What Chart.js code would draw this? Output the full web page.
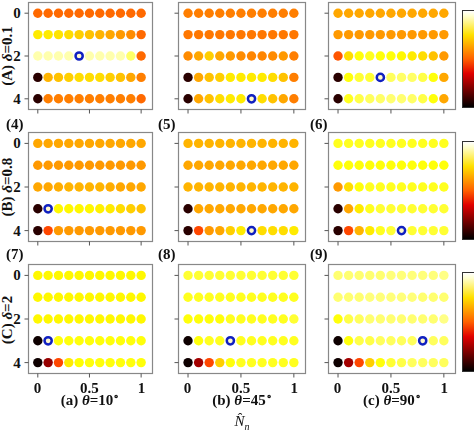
<!DOCTYPE html>
<html><head><meta charset="utf-8">
<script src="https://cdn.jsdelivr.net/npm/chart.js@4"></script>
<style>
body{margin:0;width:474px;height:434px;background:#fff;position:relative;overflow:hidden;font-family:"Liberation Serif",serif;font-weight:bold;}
canvas{position:absolute;}
.t{position:absolute;font-size:15px;white-space:nowrap;color:#111;}
.c{transform:translate(-50%,-50%);}
.r{transform:translate(-50%,-50%) rotate(-90deg);}
.cb{position:absolute;width:12px;border:1px solid #333;background:linear-gradient(to top,#000 0%,#e00000 35%,#ff6000 50%,#ffe000 75%,#ffffd0 95%,#fff 100%);}
</style></head><body>
<script>
const xs=[0,0.1,0.2,0.3,0.4,0.5,0.6,0.7,0.8,0.9,1];
const rowsY=[0,1,2,3,4];
// heat values (0 black .. 1 white) per panel, rows 0..4
const p1=[[.53,.53,.53,.53,.53,.53,.53,.53,.53,.53,.53],[.72,.72,.71,.70,.68,.66,.64,.62,.60,.58,.53],[.92,.92,.92,.92,.92,.92,.92,.92,.92,.85,.53],[.06,.64,.66,.68,.70,.70,.70,.68,.66,.62,.56],[.06,.56,.56,.56,.56,.56,.56,.56,.56,.56,.53]];
const p2=[[.56,.56,.56,.56,.56,.56,.56,.56,.56,.56,.56],[.55,.55,.55,.55,.55,.55,.55,.55,.55,.55,.55],[.58,.62,.68,.62,.60,.58,.57,.57,.58,.60,.56],[.06,.62,.66,.68,.72,.72,.72,.72,.70,.66,.56],[.06,.62,.66,.70,.72,.72,.72,.70,.66,.62,.56]];
const p3=[[.62,.62,.62,.62,.62,.62,.62,.62,.62,.62,.62],[.60,.60,.60,.60,.60,.60,.60,.60,.60,.60,.60],[.50,.70,.76,.78,.76,.76,.74,.72,.70,.66,.60],[.06,.76,.80,.80,.84,.84,.85,.85,.82,.76,.62],[.06,.78,.82,.84,.85,.86,.86,.85,.82,.76,.62]];
const p4=[[.62,.62,.62,.62,.62,.62,.62,.62,.62,.62,.62],[.60,.60,.60,.60,.60,.60,.60,.60,.60,.60,.60],[.62,.62,.63,.64,.64,.64,.64,.63,.62,.62,.62],[.06,.74,.74,.74,.74,.74,.73,.72,.70,.68,.66],[.06,.48,.60,.60,.60,.60,.60,.60,.60,.60,.60]];
const p5=[[.64,.64,.64,.64,.64,.64,.64,.64,.64,.64,.64],[.62,.62,.62,.62,.62,.62,.62,.62,.62,.62,.62],[.64,.64,.64,.64,.64,.64,.64,.64,.64,.64,.64],[.06,.62,.62,.62,.62,.62,.62,.62,.62,.62,.62],[.06,.48,.60,.62,.68,.72,.72,.70,.70,.70,.72]];
const p6=[[.78,.78,.78,.78,.78,.78,.78,.78,.78,.78,.78],[.76,.76,.76,.76,.76,.76,.76,.76,.76,.76,.76],[.60,.70,.76,.78,.78,.78,.78,.78,.78,.78,.78],[.06,.62,.72,.78,.80,.80,.80,.80,.80,.80,.80],[.06,.48,.64,.72,.78,.80,.80,.80,.80,.80,.80]];
const p7=[[.74,.74,.74,.74,.74,.74,.74,.74,.74,.74,.74],[.74,.74,.74,.74,.74,.74,.74,.74,.74,.74,.74],[.74,.74,.74,.74,.74,.74,.74,.74,.74,.74,.74],[.02,.76,.76,.76,.76,.76,.76,.76,.76,.76,.76],[.02,.22,.48,.72,.75,.76,.76,.76,.76,.76,.76]];
const p8=[[.80,.80,.80,.80,.80,.80,.80,.80,.80,.80,.80],[.78,.78,.78,.78,.78,.78,.78,.78,.78,.78,.78],[.76,.76,.76,.76,.78,.78,.78,.78,.78,.78,.80],[.02,.76,.78,.78,.78,.78,.78,.78,.78,.78,.78],[.02,.24,.48,.68,.76,.78,.78,.78,.78,.78,.78]];
const p9=[[.86,.86,.86,.86,.86,.87,.87,.87,.87,.87,.88],[.86,.86,.86,.87,.87,.87,.87,.87,.86,.86,.86],[.76,.82,.84,.86,.86,.86,.86,.86,.86,.86,.88],[.02,.76,.82,.82,.84,.84,.84,.84,.84,.84,.84],[.02,.24,.48,.68,.76,.80,.82,.84,.84,.84,.84]];
const panels=[p1,p2,p3,p4,p5,p6,p7,p8,p9];
const rings=[[0.4,2],[0.6,4],[0.4,3],[0.1,3],[0.6,4],[0.6,4],[0.1,3],[0.4,3],[0.8,3]];
const yTicks=[0,2,4], yTickLabels=['0','2','4'];
const xTicks=[0,0.5,1], xTickLabels=['0','0.5','1'];

function heat(v){const c=x=>Math.max(0,Math.min(1,x));
 const r=c(v/0.375),g=c((v-0.375)/0.375),b=c((v-0.75)/0.25);
 return `rgb(${Math.round(r*255)},${Math.round(g*255)},${Math.round(b*255)})`;}
function addText(html,x,y,cls){const d=document.createElement('div');d.className='t '+(cls||'');d.innerHTML=html;d.style.left=x+'px';d.style.top=y+'px';document.body.appendChild(d);}
const colX=[[28,153],[178,306],[328,456]], rowY=[[2,110],[132,242],[264,374]];
const PAD=6;
const frame={id:'frame',afterDraw(ch){const a=ch.chartArea,c=ch.ctx;c.save();c.strokeStyle='#888';c.lineWidth=1.2;c.strokeRect(a.left,a.top,a.right-a.left,a.bottom-a.top);
 c.strokeStyle='#555';c.lineWidth=1;c.beginPath();
 yTicks.forEach(v=>{const y=ch.scales.y.getPixelForValue(v);c.moveTo(a.left-4,y);c.lineTo(a.left,y);});
 xTicks.forEach(v=>{const x=ch.scales.x.getPixelForValue(v);c.moveTo(x,a.bottom);c.lineTo(x,a.bottom+4);});
 c.stroke();c.restore();}};
panels.forEach((P,i)=>{
 const ci=i%3, ri=Math.floor(i/3);
 const [x0,x1]=colX[ci],[y0,y1]=rowY[ri];
 const cv=document.createElement('canvas');
 const W=x1-x0+2*PAD,H=y1-y0+2*PAD;
 cv.style.left=(x0-PAD)+'px';cv.style.top=(y0-PAD)+'px';cv.width=W;cv.height=H;
 document.body.appendChild(cv);
 const pts=[],cols=[],bcol=[],bw=[];
 P.forEach((row,r)=>row.forEach((v,k)=>{pts.push({x:xs[k],y:rowsY[r]});
   const ring=rings[i][0]===xs[k]&&rings[i][1]===rowsY[r];
   cols.push(ring?'#fff8d0':heat(v));bcol.push(ring?'#1020c0':heat(v));bw.push(ring?2.5:0);}));
 new Chart(cv,{type:'scatter',data:{datasets:[{data:pts,backgroundColor:cols,borderColor:bcol,borderWidth:bw,pointRadius:bw.map(b=>b?3.6:4.7)}]},
  options:{responsive:false,animation:false,events:[],layout:{padding:PAD},
   plugins:{legend:{display:false},tooltip:{enabled:false}},
   scales:{x:{type:'linear',display:false,min:-0.09,max:1.11},y:{type:'linear',display:false,min:-0.5,max:4.5,reverse:true}}},
  plugins:[frame]});
 const sx=v=>x0+(v+0.09)/1.2*(x1-x0), sy=v=>y0+(v+0.5)/5*(y1-y0);
 if(ci===0) yTicks.forEach((v,k)=>addText(yTickLabels[k],17,sy(v),'c'));
 if(ri===2) xTicks.forEach((v,k)=>addText(xTickLabels[k],sx(v),y1+14,'c'));
});
[[10,106],[141,238],[272,370]].forEach(([a,b])=>{const d=document.createElement('div');d.className='cb';d.style.left='462px';d.style.top=a+'px';d.style.height=(b-a)+'px';document.body.appendChild(d);});
[['(4)',6,116],['(5)',158,116],['(6)',310,116],['(7)',6,246],['(8)',158,246],['(9)',310,246]].forEach(a=>addText(...a));
const deg='<sup style="font-size:10px">∘</sup>';
addText('(a) <i>θ</i>=10'+deg,90,399,'c');addText('(b) <i>θ</i>=45'+deg,242,399,'c');addText('(c) <i>θ</i>=90'+deg,392,399,'c');
addText('<i style="font-weight:normal">N̂<sub style="font-size:10px">n</sub></i>',242,422,'c');
[['(A) <i>δ</i>=0.1',56],['(B) <i>δ</i>=0.8',187],['(C) <i>δ</i>=2',320]].forEach(([s,y])=>addText(s,7,y,'r'));
</script></body></html>
